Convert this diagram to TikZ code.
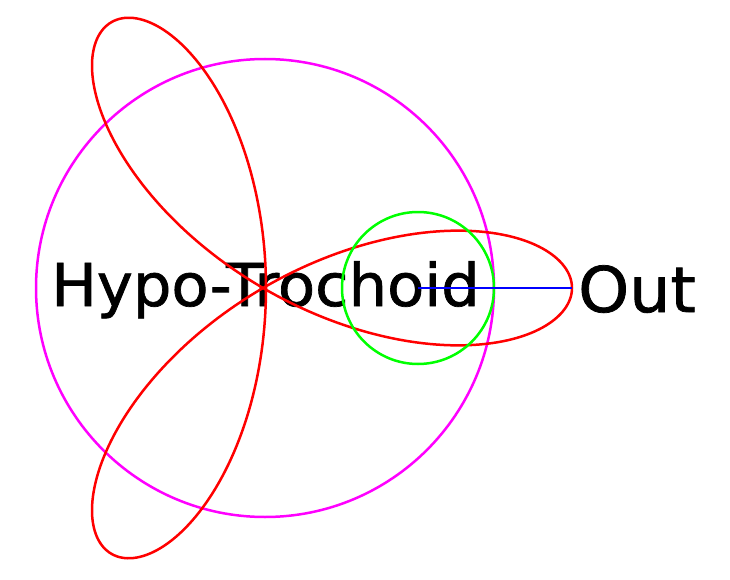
\documentclass[tikz,border=0pt]{standalone}
\usepackage{fontspec}
\setmainfont[FakeStretch=1.03, FakeBold=1.2]{DejaVu Sans}
\usetikzlibrary{positioning}
\definecolor{rimcolor}{RGB}{255,0,255}
\definecolor{wheelcolor}{RGB}{0,255,0}
\tikzset{
	track/.style={line width=2.5pt},
	caption/.style={anchor=base west, inner sep=0pt, text=black}
}

\begin{document}
\begin{tikzpicture}[x=1pt, y=-1pt]
	\useasboundingbox (0,0) rectangle (730,580);
	\coordinate (hub) at (265, 288);
	\coordinate (wheel) at (418, 288);
	\coordinate (pen) at (572, 288);

	\node[caption, font=\fontsize{59}{59}\selectfont] (title) at (51, 306) {Hypo-Trochoid};
	\node[caption, font=\fontsize{63}{63}\selectfont] (out) at (578, 312) {Out};

	\draw[track, rimcolor] (hub) circle (229pt);
	\draw[track, red, shift={(hub)}] plot[domain=0:360, samples=361]
		({153*cos(\x)+154*cos(2*\x)}, {153*sin(\x)-154*sin(2*\x)});
	\draw[track, wheelcolor] (wheel) circle (76pt);
	\draw[track, blue] (wheel) -- (pen);
\end{tikzpicture}
\end{document}
